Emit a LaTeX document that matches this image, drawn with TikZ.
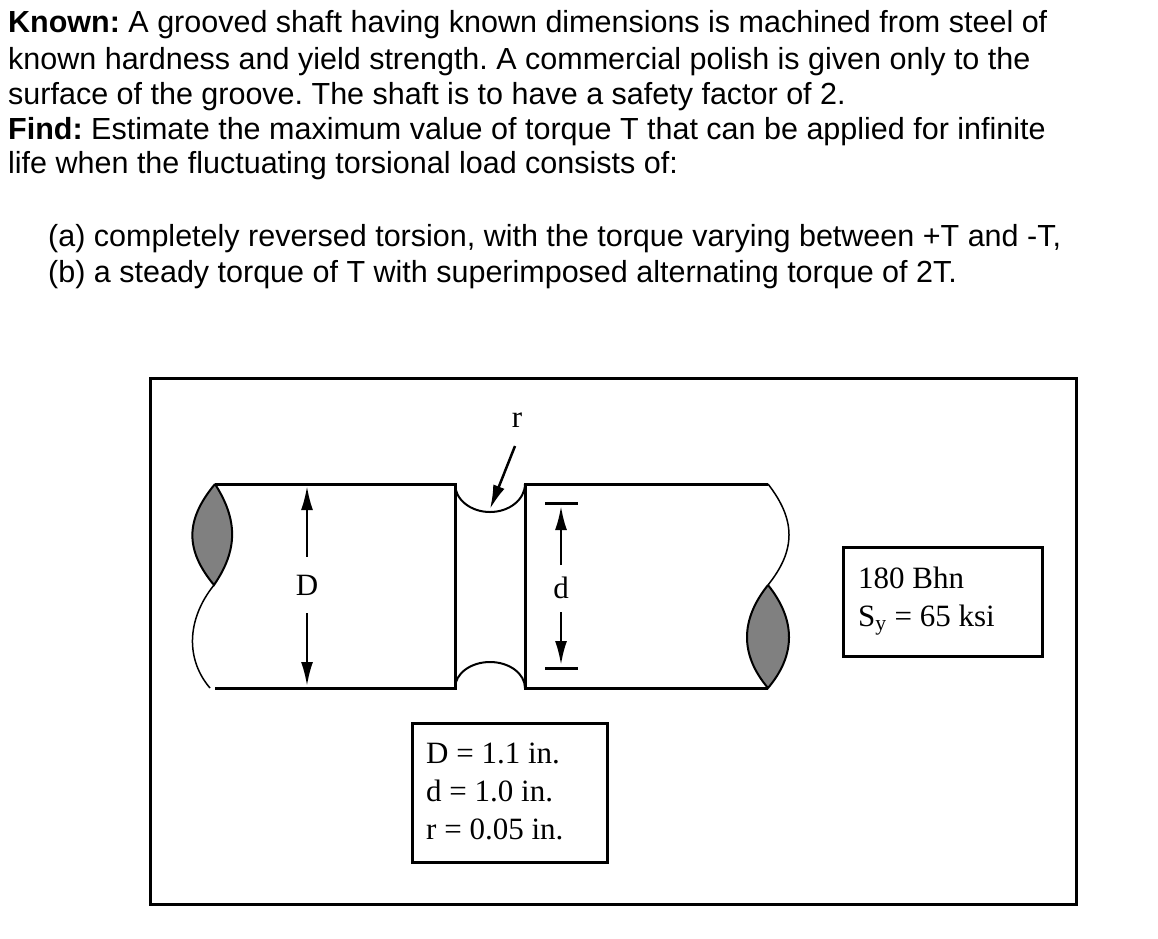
\documentclass[tikz,border=0pt]{standalone}
\usepackage{fontspec}
\usetikzlibrary{arrows.meta}
\setmainfont{Liberation Sans}
\newfontfamily\tms{Liberation Serif}
\frenchspacing
\begin{document}
\begin{tikzpicture}[x=1pt,y=-1pt,
 txt/.style={anchor=west,inner sep=0pt,font=\fontsize{30.5}{36}\selectfont},
 srf/.style={inner sep=0pt,font=\tms\fontsize{31}{38}\selectfont},
 thick2/.style={line width=3pt},
 arr/.style={line width=2.5pt,-{Latex[length=24pt,width=12pt]}}]
\useasboundingbox (0,0) rectangle (1158,938);
\node[txt] (t1) at (8,25) {\textbf{Known:} A grooved shaft having known dimensions is machined from steel of};
\node[txt] (t2) at (8,62) {known hardness and yield strength. A commercial polish is given only to the};
\node[txt] (t3) at (8,97) {surface of the groove. The shaft is to have a safety factor of 2.};
\node[txt] (t4) at (8,132) {\textbf{Find:} Estimate the maximum value of torque T that can be applied for infinite};
\node[txt] (t5) at (8,166) {life when the fluctuating torsional load consists of:};
\node[txt] (t6) at (48,239) {(a) completely reversed torsion, with the torque varying between +T and -T,};
\node[txt] (t7) at (48,275) {(b) a steady torque of T with superimposed alternating torque of 2T.};
\draw[line width=3pt] (150,378) rectangle (1076,904);
% shaded lenses
\draw[line width=2pt,fill=gray] (215,484) .. controls (185,520) and (185,550) .. (214,585) .. controls (238,550) and (238,520) .. (215,484);
\draw[line width=2pt,fill=gray] (768,585) .. controls (740,620) and (740,655) .. (768,688) .. controls (796,655) and (796,620) .. (768,585);
% wavy ends
\draw[line width=1.5pt] (214,585) .. controls (186,620) and (186,660) .. (210,688);
\draw[line width=1.5pt] (768,484) .. controls (796,520) and (796,550) .. (768,585);
% shaft outline
\draw[thick2] (215,484) -- (455,484) -- (455,688) -- (215,688);
\draw[thick2] (768,484) -- (525,484) -- (525,688) -- (768,688);
\draw[line width=2pt] (455,484) arc[start angle=180,end angle=0,x radius=35,y radius=28];
\draw[line width=2pt] (455,688) arc[start angle=180,end angle=360,x radius=35,y radius=26];
% D
\node[srf] (D) at (307,585) {D};
\draw[arr] (D.north) ++(0,-18) coordinate (Dt) (Dt) -- (307,486);
\draw[arr] (D.south) ++(0,18) coordinate (Db) (Db) -- (307,686);
% d
\draw[line width=3pt] (545,503) -- (578,503) (545,668) -- (578,668);
\node[srf] (dd) at (561,588) {d};
\draw[arr] (561,565) -- (561,506);
\draw[arr] (561,612) -- (561,665);
% r
\node[srf] (r) at (517,420) {r};
\draw[arr] (515,446) -- (490,509);
% boxes
\node[draw,line width=3pt,minimum width=199pt,minimum height=109pt,inner sep=0pt] (mat) at (942.5,601.5) {};
\node[srf,anchor=west,align=left] (matt) at (858,601) {180 Bhn\\S\textsubscript{y} = 65 ksi};
\node[draw,line width=3pt,minimum width=195pt,minimum height=139pt,inner sep=0pt] (dim) at (509.5,792.5) {};
\node[srf,anchor=west,align=left] (dimt) at (426,791) {D = 1.1 in.\\d = 1.0 in.\\r = 0.05 in.};
\end{tikzpicture}
\end{document}
